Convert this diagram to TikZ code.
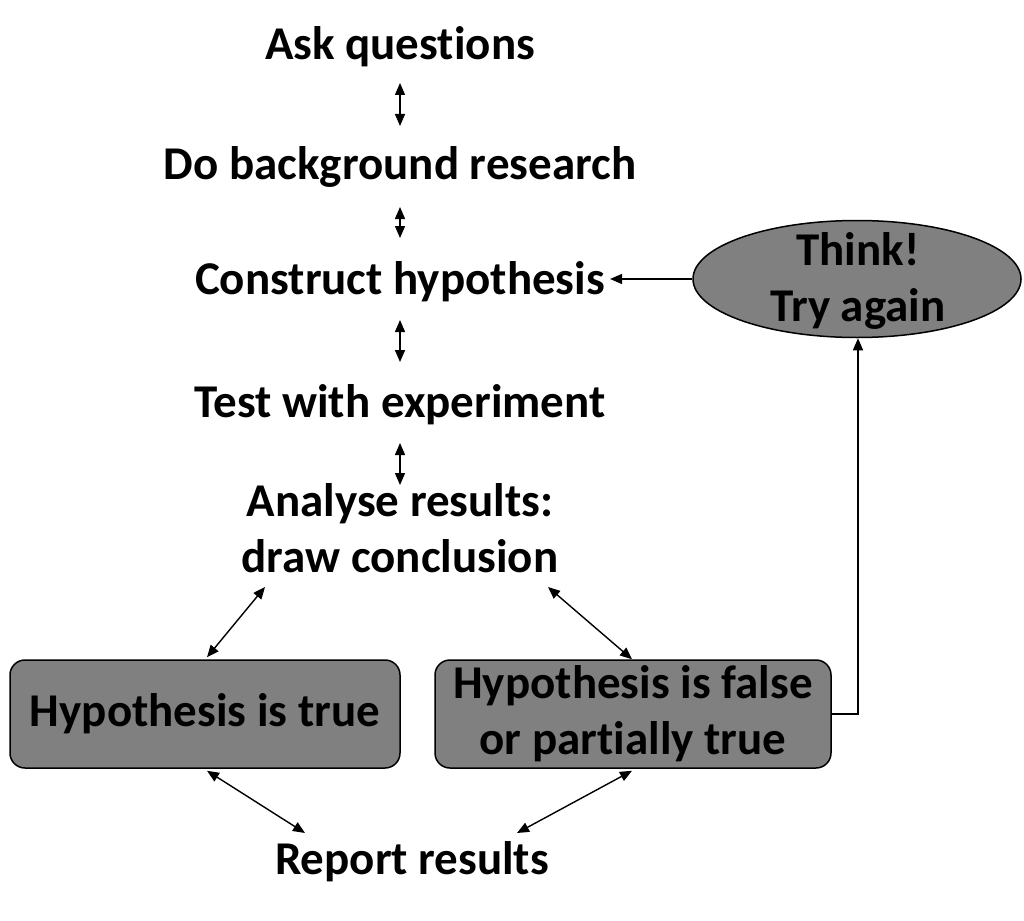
\documentclass[tikz,border=0pt]{standalone}
\usepackage{fontspec}
\setmainfont{Carlito}[Ligatures=NoCommon]
\usetikzlibrary{arrows.meta,calc,shapes.geometric}
\begin{document}
\begin{tikzpicture}[x=1pt,y=-1pt,
  lbl/.style={font=\fontsize{47}{56}\selectfont\bfseries, align=center, inner sep=0pt},
  grbox/.style={lbl, draw=black, line width=1.5pt, rounded corners=15pt},
  conn/.style={line width=1.4pt, {Triangle[length=12pt,width=10pt]}-{Triangle[length=12pt,width=10pt]}},
  oneway/.style={line width=1.4pt, -{Triangle[length=12pt,width=10pt]}}]
\useasboundingbox (0,0) rectangle (1024,920);
\definecolor{boxgray}{RGB}{128,128,128}
\node[lbl] (ask) at (400,47) {Ask questions};
\node[lbl] (bg) at (400,167) {Do background research};
\node[lbl] (hyp) at (400,282) {Construct hypothesis};
\node[lbl] (test) at (400,405) {Test with experiment};
\node[lbl] (ana) at (400,528) {Analyse results:\\draw conclusion};
\node[grbox, fill=boxgray, minimum width=390pt, minimum height=108pt] (true) at (205,714) {Hypothesis is true};
\node[grbox, fill=boxgray, minimum width=396pt, minimum height=108pt] (false) at (633,714) {Hypothesis is false\\or partially true};
\node[ellipse, draw=black, line width=1.5pt, fill=boxgray, minimum width=328pt, minimum height=117pt, inner sep=0pt] (think) at (857,279) {};
\node[lbl] (thinktxt) at (858,281) {Think!\\Try again};
\node[lbl] (rep) at (412,862) {Report results};

\draw[conn] ($(ask)+(0,36)$) -- ($(bg)+(0,-41)$);
\draw[conn] ($(bg)+(0,40)$) -- ($(hyp)+(0,-44)$);
\draw[conn] ($(hyp)+(0,38)$) -- ($(test)+(0,-43)$);
\draw[conn] ($(test)+(0,38)$) -- ($(ana)+(0,-43)$);
\draw[conn] ($(ana)+(-135,59)$) -- ($(true.north)+(2,-2)$);
\draw[conn] ($(ana)+(148,59)$) -- ($(false.north)+(-1,0)$);
\draw[conn] ($(true.south)+(2,2)$) -- ($(rep)+(-107,-29)$);
\draw[conn] ($(false.south)+(-1,2)$) -- ($(rep)+(105,-29)$);
\draw[oneway] (think.west) -- ($(think.west -| hyp.east)+(5,0)$);
\coordinate (up) at (858,714);
\draw[oneway] (false.east) -- (up) -- (up |- think.south);
\end{tikzpicture}
\end{document}
